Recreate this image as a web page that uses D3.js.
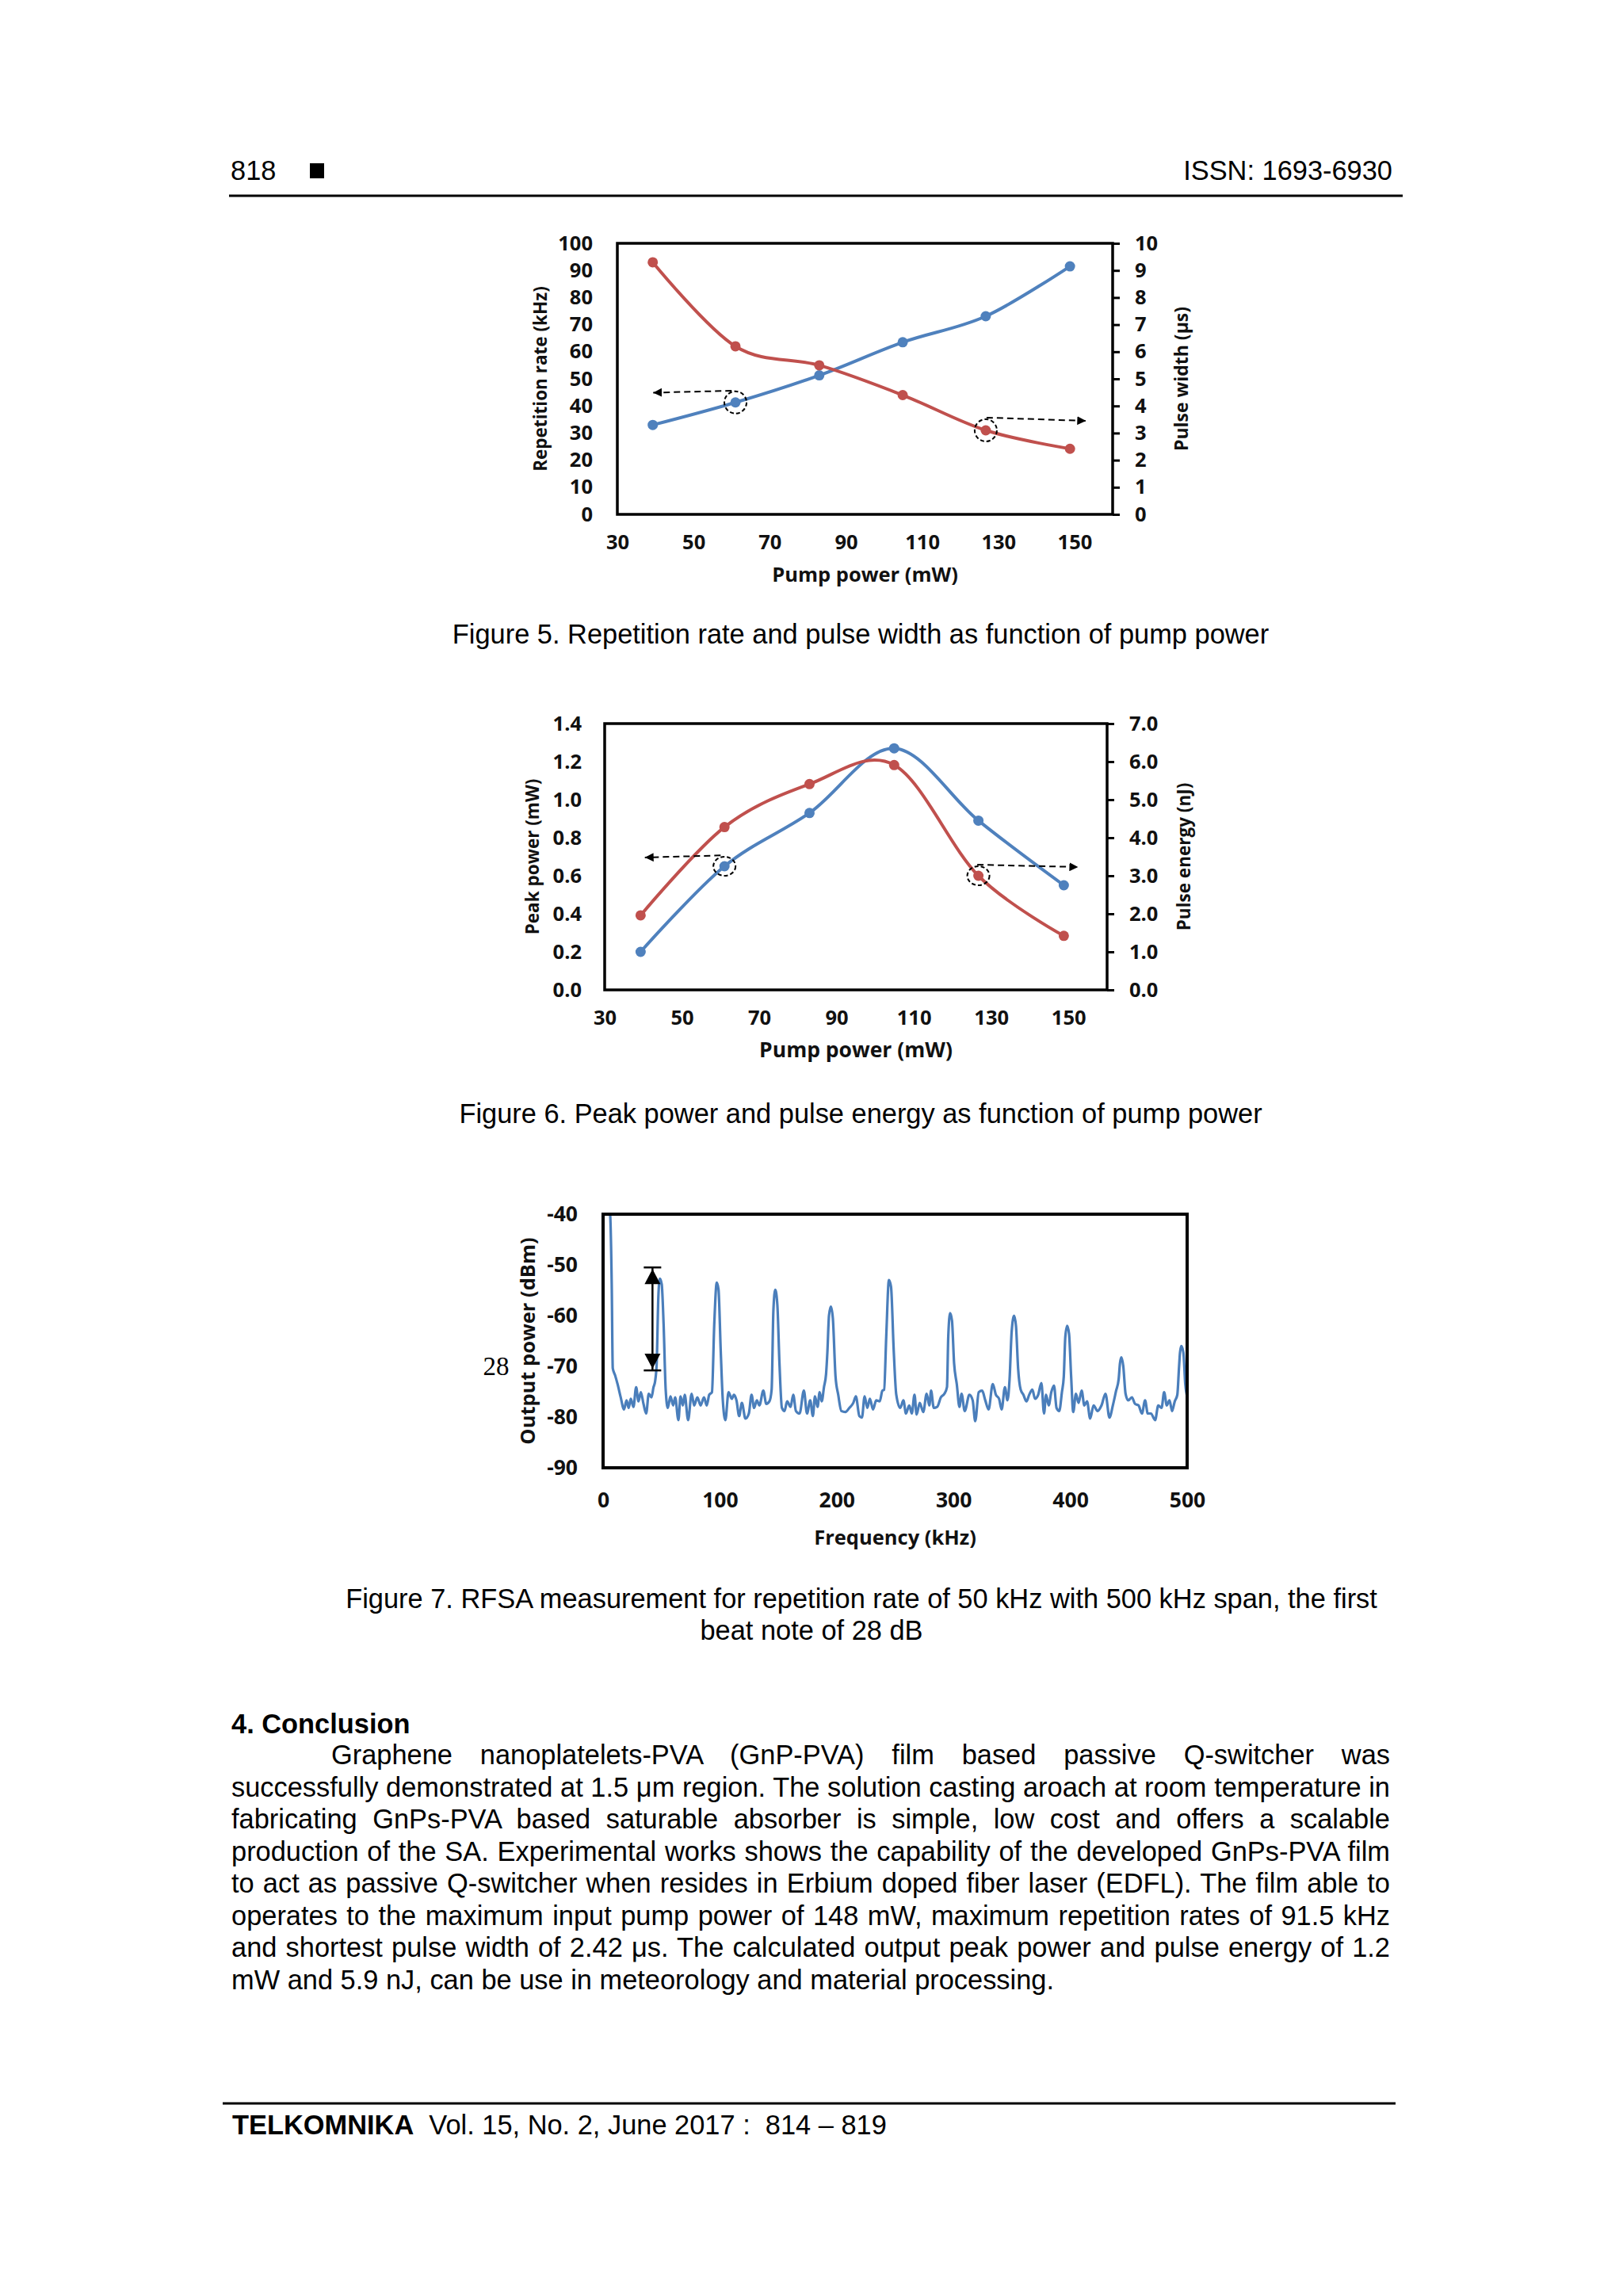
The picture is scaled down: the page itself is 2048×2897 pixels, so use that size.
<!DOCTYPE html>
<html>
<head>
<meta charset="utf-8">
<script src="https://cdn.jsdelivr.net/npm/d3@7"></script>
<style>
  body { margin: 0; background: #fff; }
  #page { width: 2048px; height: 2897px; }
</style>
</head>
<body>
<div id="page"></div>
<script>
// ---- data: figure 5 and 6 (pump power sweep) ----
const pumpPower   = [39.3, 61.0, 83.0, 104.9, 126.7, 148.8];
const repRate     = [33.0, 41.3, 51.3, 63.5, 73.1, 91.5];      // kHz
const pulseWidth  = [9.3, 6.2, 5.5, 4.4, 3.1, 2.42];           // us
const peakPower   = [0.20, 0.65, 0.93, 1.27, 0.89, 0.55];      // mW
const pulseEnergy = [1.96, 4.28, 5.41, 5.91, 3.0, 1.42];       // nJ

// tick labels
const pumpTicks        = [30, 50, 70, 90, 110, 130, 150];
const repRateTicks     = [0, 10, 20, 30, 40, 50, 60, 70, 80, 90, 100];
const pulseWidthTicks  = [0, 1, 2, 3, 4, 5, 6, 7, 8, 9, 10];
const peakPowerTicks   = [0, 0.2, 0.4, 0.6, 0.8, 1.0, 1.2, 1.4];
const pulseEnergyTicks = [0, 1, 2, 3, 4, 5, 6, 7];
const freqTicks        = [0, 100, 200, 300, 400, 500];
const dbmTicks         = [-90, -80, -70, -60, -50, -40];

// ---- data: figure 7 RF spectrum ----
const specFreq = [5.8, 6.1, 7.4, 8.3, 10.2, 12.4, 15.1, 17.9, 20.1, 21.9, 23.7, 26.0, 28.3, 30.3, 32.3, 34.6, 36.9, 39.1, 41.4, 43.2,
  44.5, 45.9, 47.3, 48.6, 50.2, 51.8, 53.6, 55.4, 57.7, 60.0, 61.7, 64.5, 66.3, 68.3, 69.9, 72.8, 75.8, 78.0, 80.7, 83.5,
  86.4, 88.7, 90.9, 93.2, 95.2, 97.3, 98.8, 100.7, 102.5, 104.7, 107.4, 110.2, 112.0, 114.2, 116.5, 118.8, 121.9, 124.8, 127.1, 129.3,
  131.6, 133.8, 137.2, 139.7, 142.4, 144.3, 145.8, 147.4, 149.2, 151.0, 153.1, 155.3, 157.6, 160.5, 162.8, 165.1, 168.2, 171.9, 174.6, 177.3,
  179.6, 181.4, 183.6, 185.4, 187.2, 189.1, 190.9, 192.0, 193.4, 195.0, 196.7, 199.0, 201.3, 204.0, 207.4, 210.8, 214.2, 216.4, 219.4, 221.6,
  223.9, 226.2, 228.4, 231.1, 233.8, 236.8, 239.1, 240.6, 242.4, 244.7, 246.5, 248.8, 251.0, 254.4, 257.1, 259.3, 262.1, 264.3, 266.6, 268.4,
  271.1, 274.1, 277.0, 279.3, 280.8, 283.1, 286.0, 289.2, 292.2, 294.4, 295.5, 297.1, 298.7, 300.5, 302.8, 305.1, 306.9, 309.6, 313.6, 316.4,
  318.6, 321.6, 324.5, 327.2, 330.0, 333.6, 336.3, 339.0, 341.2, 344.0, 346.2, 348.0, 349.8, 351.9, 353.5, 355.3, 357.5, 359.8, 362.5, 364.8,
  367.5, 369.8, 372.5, 375.2, 377.5, 379.2, 381.5, 383.7, 386.0, 388.2, 390.5, 392.8, 394.4, 395.7, 397.3, 398.9, 400.7, 402.5, 404.8, 407.0,
  409.7, 412.0, 414.3, 417.0, 419.9, 423.3, 426.7, 430.1, 433.5, 436.4, 439.2, 441.4, 442.5, 443.7, 445.3, 447.3, 449.6, 452.7, 455.4, 458.4,
  461.3, 464.0, 466.3, 469.0, 472.6, 475.3, 478.1, 480.3, 482.6, 484.9, 487.1, 489.4, 491.6, 493.0, 493.9, 495.0, 496.8, 498.4, 500.2];
const specPower = [-39.5, -40.2, -53.8, -70.4, -71.7, -73.5, -76.1, -78.5, -76.7, -78.2, -76.4, -78.0, -74.1, -76.9, -75.1, -77.4, -79.3, -75.4, -76.1, -74.1,
  -73.0, -69.4, -56.4, -52.7, -53.8, -61.6, -74.6, -78.2, -75.9, -77.7, -76.1, -80.6, -75.9, -77.7, -75.6, -80.6, -75.4, -77.7, -76.1, -77.7,
  -76.1, -77.7, -75.6, -75.1, -61.6, -53.5, -54.8, -66.8, -76.7, -80.6, -75.1, -76.4, -75.6, -76.7, -79.8, -77.2, -80.3, -79.3, -75.6, -78.2,
  -76.7, -77.7, -74.8, -77.4, -76.9, -74.6, -59.0, -54.9, -57.9, -69.4, -78.2, -78.8, -76.9, -78.0, -75.6, -78.8, -79.3, -74.8, -79.3, -76.7,
  -79.8, -75.9, -78.0, -75.1, -76.9, -74.1, -71.5, -67.3, -60.0, -58.2, -60.5, -72.0, -75.6, -78.8, -79.0, -78.2, -77.2, -75.9, -79.8, -80.1,
  -75.9, -78.2, -76.4, -78.5, -76.7, -76.9, -74.8, -74.6, -64.2, -53.0, -54.3, -66.8, -75.6, -78.2, -76.7, -79.3, -77.7, -79.3, -75.6, -79.5,
  -77.2, -79.0, -75.4, -77.7, -74.8, -78.2, -78.0, -76.1, -75.4, -74.1, -64.2, -59.5, -61.0, -69.4, -73.5, -78.0, -75.4, -78.8, -75.6, -76.7,
  -80.8, -75.1, -74.8, -76.7, -78.5, -73.5, -75.6, -76.4, -78.5, -74.1, -76.7, -72.5, -63.1, -60.0, -62.1, -70.4, -74.6, -75.6, -76.9, -75.6,
  -74.6, -76.4, -75.6, -73.3, -79.3, -75.6, -77.7, -75.1, -73.8, -78.2, -78.8, -75.1, -72.0, -64.2, -62.0, -63.6, -72.0, -79.0, -75.4, -77.2,
  -74.8, -77.7, -76.9, -80.3, -77.7, -78.8, -77.7, -75.4, -80.1, -77.7, -74.8, -72.5, -69.4, -68.2, -69.9, -75.4, -76.7, -76.1, -77.4, -77.7,
  -79.3, -76.7, -79.3, -79.3, -80.6, -77.7, -78.2, -75.1, -77.7, -76.7, -78.8, -76.9, -75.6, -70.4, -67.3, -66.0, -67.3, -73.5, -76.1];

// ---- text ----
const conclusionLines = [
  "Graphene nanoplatelets-PVA (GnP-PVA) film based passive Q-switcher was",
  "successfully demonstrated at 1.5 μm region. The solution casting aroach at room temperature in",
  "fabricating GnPs-PVA based saturable absorber is simple, low cost and offers a scalable",
  "production of the SA. Experimental works shows the capability of the developed GnPs-PVA film",
  "to act as passive Q-switcher when resides in Erbium doped fiber laser (EDFL). The film able to",
  "operates to the maximum input pump power of 148 mW, maximum repetition rates of 91.5 kHz",
  "and shortest pulse width of 2.42 μs. The calculated output peak power and pulse energy of 1.2",
  "mW and 5.9 nJ, can be use in meteorology and material processing."
];

const bodyFont = '"Liberation Sans", Arial, sans-serif';
const chartFont = '"Open Sans", sans-serif';
const blue = "#4f81bd", red = "#c0504d";

const svg = d3.select("#page").append("svg")
  .attr("width", 2048).attr("height", 2897)
  .style("display", "block");
svg.append("rect").attr("width", 2048).attr("height", 2897).attr("fill", "#fff");

svg.append("defs").append("marker")
  .attr("id", "head")
  .attr("viewBox", "0 0 10 10")
  .attr("refX", 10).attr("refY", 5)
  .attr("markerWidth", 11).attr("markerHeight", 11)
  .attr("markerUnits", "userSpaceOnUse")
  .attr("orient", "auto")
  .append("path").attr("d", "M0,0L10,5L0,10Z").attr("fill", "#000");

function bodyText(x, y, str, opts = {}) {
  return svg.append("text")
    .attr("x", x).attr("y", y)
    .attr("font-family", bodyFont)
    .attr("font-size", opts.size || 34.4)
    .attr("font-weight", opts.bold ? "bold" : "normal")
    .attr("text-anchor", opts.anchor || "start")
    .attr("fill", "#000")
    .text(str);
}

function justify(x, y, width, str) {
  const t = bodyText(x, y, str);
  const len = t.node().getComputedTextLength();
  const gaps = (str.match(/ /g) || []).length;
  if (gaps) t.style("word-spacing", ((width - len) / gaps) + "px");
}

// ---- page header / footer ----
bodyText(291, 227, "818");
svg.append("rect").attr("x", 391).attr("y", 206).attr("width", 18).attr("height", 19).attr("fill", "#000");
bodyText(1757, 227, "ISSN: 1693-6930", { anchor: "end" });
svg.append("line").attr("x1", 289).attr("x2", 1770).attr("y1", 247).attr("y2", 247)
  .attr("stroke", "#000").attr("stroke-width", 3);

svg.append("line").attr("x1", 281).attr("x2", 1761).attr("y1", 2654).attr("y2", 2654)
  .attr("stroke", "#000").attr("stroke-width", 3);
const foot = bodyText(293, 2693, "").attr("xml:space", "preserve");
foot.append("tspan").attr("font-weight", "bold").text("TELKOMNIKA");
foot.append("tspan").text("  Vol. 15, No. 2, June 2017 :  814 – 819");

// ---- axis helpers ----
function styleAxis(g, size) {
  g.select(".domain").remove();
  g.selectAll("text")
    .attr("font-family", chartFont)
    .attr("font-weight", "bold")
    .attr("font-size", size)
    .attr("fill", "#111");
  g.selectAll(".tick line").attr("stroke", "#000").attr("stroke-width", 3);
}

function axisTitle(x, y, str, size, rotate) {
  svg.append("text")
    .attr("transform", `translate(${x},${y})` + (rotate ? " rotate(-90)" : ""))
    .attr("text-anchor", "middle")
    .attr("dominant-baseline", "central")
    .attr("font-family", chartFont)
    .attr("font-weight", "bold")
    .attr("font-size", size)
    .attr("fill", "#111")
    .text(str);
}

// dual-axis pump power chart (figures 5 and 6)
function dualChart(o) {
  const x = d3.scaleLinear().domain([30, 160]).range([o.left, o.right]);
  const yL = d3.scaleLinear().domain(o.leftDomain).range([o.bottom, o.top]);
  const yR = d3.scaleLinear().domain(o.rightDomain).range([o.bottom, o.top]);

  svg.append("g").attr("transform", `translate(0,${o.bottom})`)
    .call(d3.axisBottom(x).tickValues(pumpTicks).tickSize(0).tickPadding(26))
    .call(styleAxis, 25.5);
  svg.append("g").attr("transform", `translate(${o.left},0)`)
    .call(d3.axisLeft(yL).tickValues(o.leftTicks).tickFormat(o.leftFmt).tickSize(0).tickPadding(o.leftPad))
    .call(styleAxis, 25.5);
  svg.append("g").attr("transform", `translate(${o.right},0)`)
    .call(d3.axisRight(yR).tickValues(o.rightTicks).tickFormat(o.rightFmt).tickSize(9).tickPadding(19))
    .call(styleAxis, 25.5);

  svg.append("rect")
    .attr("x", o.left).attr("y", o.top)
    .attr("width", o.right - o.left).attr("height", o.bottom - o.top)
    .attr("fill", "none").attr("stroke", "#000").attr("stroke-width", 3.5);

  const series = [
    { vals: o.leftVals, y: yL, color: blue },
    { vals: o.rightVals, y: yR, color: red }
  ];
  series.forEach(s => {
    const line = d3.line()
      .x((d, i) => x(pumpPower[i]))
      .y(d => s.y(d))
      .curve(d3.curveCatmullRom.alpha(0));
    svg.append("path").datum(s.vals)
      .attr("d", line).attr("fill", "none")
      .attr("stroke", s.color).attr("stroke-width", 4);
    svg.append("g").selectAll("circle").data(s.vals).join("circle")
      .attr("cx", (d, i) => x(pumpPower[i]))
      .attr("cy", d => s.y(d))
      .attr("r", 6.5)
      .attr("fill", s.color);
  });

  // dashed callouts showing which axis each curve belongs to
  const callouts = [
    { cx: x(pumpPower[1]), cy: yL(o.leftVals[1]), from: [x(o.leftArrow[0]), yL(o.leftArrow[1])], to: [x(o.leftArrow[2]), yL(o.leftArrow[3])] },
    { cx: x(pumpPower[4]), cy: yR(o.rightVals[4]), from: [x(o.rightArrow[0]), yR(o.rightArrow[1])], to: [x(o.rightArrow[2]), yR(o.rightArrow[3])] }
  ];
  callouts.forEach(c => {
    svg.append("ellipse")
      .attr("cx", c.cx).attr("cy", c.cy).attr("rx", 14).attr("ry", o.ry)
      .attr("fill", "none").attr("stroke", "#000").attr("stroke-width", 2)
      .attr("stroke-dasharray", "5,3");
    svg.append("line")
      .attr("x1", c.from[0]).attr("y1", c.from[1])
      .attr("x2", c.to[0]).attr("y2", c.to[1])
      .attr("stroke", "#000").attr("stroke-width", 2)
      .attr("stroke-dasharray", "8,5")
      .attr("marker-end", "url(#head)");
  });

  axisTitle((o.left + o.right) / 2, o.xTitleY, "Pump power (mW)", o.xTitleSize);
  axisTitle(o.leftTitleX, (o.top + o.bottom) / 2, o.leftTitle, o.leftTitleSize, true);
  axisTitle(o.rightTitleX, (o.top + o.bottom) / 2, o.rightTitle, o.rightTitleSize, true);
}

// Figure 5
dualChart({
  left: 779, right: 1404, top: 307, bottom: 649,
  leftDomain: [0, 100], rightDomain: [0, 10],
  leftTicks: repRateTicks, rightTicks: pulseWidthTicks,
  leftFmt: d3.format("d"), rightFmt: d3.format("d"),
  leftPad: 31,
  leftVals: repRate, rightVals: pulseWidth,
  leftArrow: [60.0, 45.6, 39.4, 44.9],
  rightArrow: [126.9, 3.57, 153.0, 3.45],
  ry: 14,
  xTitleY: 724, leftTitleX: 681, rightTitleX: 1490,
  xTitleSize: 25.5, leftTitleSize: 22.5, rightTitleSize: 23,
  leftTitle: "Repetition rate (kHz)", rightTitle: "Pulse width (μs)"
});
bodyText(1086, 812, "Figure 5. Repetition rate and pulse width as function of pump power", { anchor: "middle" });

// Figure 6
dualChart({
  left: 763, right: 1397, top: 913, bottom: 1249,
  leftDomain: [0, 1.4], rightDomain: [0, 7],
  leftTicks: peakPowerTicks, rightTicks: pulseEnergyTicks,
  leftFmt: d3.format(".1f"), rightFmt: d3.format(".1f"),
  leftPad: 29,
  leftVals: peakPower, rightVals: pulseEnergy,
  leftArrow: [60.0, 0.707, 40.4, 0.696],
  rightArrow: [126.4, 3.29, 152.5, 3.23],
  ry: 12,
  xTitleY: 1324, leftTitleX: 671, rightTitleX: 1493,
  xTitleSize: 26.5, leftTitleSize: 22.5, rightTitleSize: 22.5,
  leftTitle: "Peak power (mW)", rightTitle: "Pulse energy (nJ)"
});
bodyText(1086, 1417, "Figure 6. Peak power and pulse energy as function of pump power", { anchor: "middle" });

// Figure 7: RF spectrum
(function () {
  const left = 761, right = 1498, top = 1532, bottom = 1852;
  const x = d3.scaleLinear().domain([0, 500]).range([left, right]);
  const y = d3.scaleLinear().domain([-90, -40]).range([bottom, top]);

  svg.append("g").attr("transform", `translate(0,${bottom})`)
    .call(d3.axisBottom(x).tickValues(freqTicks).tickSize(0).tickPadding(31))
    .call(styleAxis, 26.5);
  svg.append("g").attr("transform", `translate(${left},0)`)
    .call(d3.axisLeft(y).tickValues(dbmTicks).tickFormat(d => String(d)).tickSize(0).tickPadding(32))
    .call(styleAxis, 26.5);

  svg.append("clipPath").attr("id", "specClip")
    .append("rect").attr("x", left).attr("y", top).attr("width", right - left).attr("height", bottom - top);

  const line = d3.line()
    .x(d => x(d[0])).y(d => y(d[1]))
    .curve(d3.curveMonotoneX);
  svg.append("path")
    .datum(specFreq.map((f, i) => [f, specPower[i]]))
    .attr("clip-path", "url(#specClip)")
    .attr("d", line).attr("fill", "none")
    .attr("stroke", "#4a7ebb").attr("stroke-width", 3.2)
    .attr("stroke-linejoin", "round");

  svg.append("rect")
    .attr("x", left).attr("y", top).attr("width", right - left).attr("height", bottom - top)
    .attr("fill", "none").attr("stroke", "#000").attr("stroke-width", 4);

  // 28 dB marker
  const ax = x(42.3), yTop = y(-50.5), yBot = y(-70.8);
  const m = svg.append("g").attr("stroke", "#000").attr("stroke-width", 2.5);
  m.append("line").attr("x1", ax).attr("x2", ax).attr("y1", yTop).attr("y2", yBot);
  m.append("line").attr("x1", ax - 11).attr("x2", ax + 11).attr("y1", yTop).attr("y2", yTop);
  m.append("line").attr("x1", ax - 11).attr("x2", ax + 11).attr("y1", yBot).attr("y2", yBot);
  svg.append("path")
    .attr("d", `M${ax},${yTop + 2}L${ax - 10},${yTop + 21}L${ax + 10},${yTop + 21}Z`)
    .attr("fill", "#000");
  svg.append("path")
    .attr("d", `M${ax},${yBot - 2}L${ax - 10},${yBot - 21}L${ax + 10},${yBot - 21}Z`)
    .attr("fill", "#000");
  svg.append("text")
    .attr("x", 626).attr("y", 1735)
    .attr("text-anchor", "middle")
    .attr("font-family", '"Liberation Serif", "Times New Roman", serif')
    .attr("font-size", 33)
    .text("28");

  axisTitle((left + right) / 2, 1939, "Frequency (kHz)", 25.5);
  axisTitle(665, (top + bottom) / 2, "Output power (dBm)", 25.5, true);
})();
bodyText(1087, 2029, "Figure 7. RFSA measurement for repetition rate of 50 kHz with 500 kHz span, the first", { anchor: "middle" });
bodyText(1024, 2069, "beat note of 28 dB", { anchor: "middle" });

// ---- conclusion ----
bodyText(292, 2187, "4. Conclusion", { bold: true });
const textLeft = 292, textRight = 1754, indent = 126, lineGap = 40.5;
conclusionLines.forEach((ln, i) => {
  const y = 2226 + i * lineGap;
  const x0 = i === 0 ? textLeft + indent : textLeft;
  if (i === conclusionLines.length - 1) bodyText(x0, y, ln);
  else justify(x0, y, textRight - x0, ln);
});
</script>
</body>
</html>
